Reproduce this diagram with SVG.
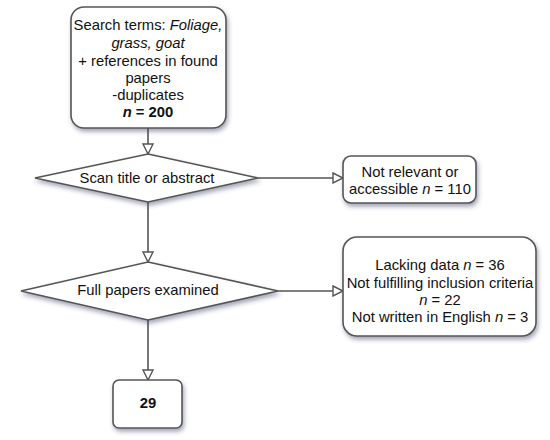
<svg xmlns="http://www.w3.org/2000/svg" width="550" height="440" viewBox="0 0 550 440">
<style>
.shape{fill:#fff;stroke:#555;stroke-width:1.6;filter:url(#sh)}
.t{font-family:"Liberation Sans",Arial,sans-serif;font-size:14.8px;fill:#111;text-anchor:middle}
.b{font-weight:bold}
.i{font-style:italic}
.conn{stroke:#555;stroke-width:1.6;fill:none;marker-end:url(#arr)}
</style>
<defs>
<filter id="sh" x="-20%" y="-20%" width="140%" height="150%">
<feDropShadow dx="1.5" dy="3" stdDeviation="2" flood-color="#3a3f66" flood-opacity="0.45"/>
</filter>
<marker id="arr" markerUnits="userSpaceOnUse" markerWidth="12" markerHeight="12" refX="10" refY="5" orient="auto" viewBox="-1 -1 12 12">
<path d="M0,0 L10,5 L0,10 Z" fill="#fff" stroke="#555" stroke-width="1.4"/>
</marker>
</defs>
<rect width="550" height="440" fill="#fff"/>
<g id="connectors">
<line class="conn" x1="148" y1="128" x2="148" y2="154"/>
<line class="conn" x1="148" y1="202" x2="148" y2="262"/>
<line class="conn" x1="258" y1="178" x2="343" y2="178"/>
<line class="conn" x1="278" y1="291" x2="343" y2="291"/>
<line class="conn" x1="148" y1="320" x2="148" y2="380"/>
</g>
<g id="search">
<rect class="shape" x="71" y="7" width="155" height="121" rx="13"/>
<text class="t" x="148" y="30">Search terms: <tspan class="i">Foliage,</tspan></text>
<text class="t i" x="148" y="48">grass, goat</text>
<text class="t" x="148" y="66">+ references in found</text>
<text class="t" x="148" y="83">papers</text>
<text class="t" x="148" y="100">-duplicates</text>
<text class="t b" x="148" y="117"><tspan class="i">n</tspan> = 200</text>
</g>
<g id="scan">
<polygon class="shape" points="148,154 258,178 148,202 35,178"/>
<text class="t" x="147" y="183">Scan title or abstract</text>
</g>
<g id="notrelevant">
<rect class="shape" x="343" y="156" width="133" height="47" rx="8"/>
<text class="t" x="410" y="177">Not relevant or</text>
<text class="t" x="410" y="194">accessible <tspan class="i">n</tspan> = 110</text>
</g>
<g id="full">
<polygon class="shape" points="148,262 278,291 148,320 21,291"/>
<text class="t" x="148" y="295">Full papers examined</text>
</g>
<g id="excluded">
<rect class="shape" x="343" y="237" width="193" height="99" rx="14"/>
<text class="t" x="440" y="270">Lacking data <tspan class="i">n</tspan> = 36</text>
<text class="t" x="440" y="288">Not fulfilling inclusion criteria</text>
<text class="t" x="440" y="305"><tspan class="i">n</tspan> = 22</text>
<text class="t" x="440" y="322">Not written in English <tspan class="i">n</tspan> = 3</text>
</g>
<g id="result">
<rect class="shape" x="113" y="380" width="69" height="48" rx="6"/>
<text class="t b" x="148" y="408">29</text>
</g>
</svg>
